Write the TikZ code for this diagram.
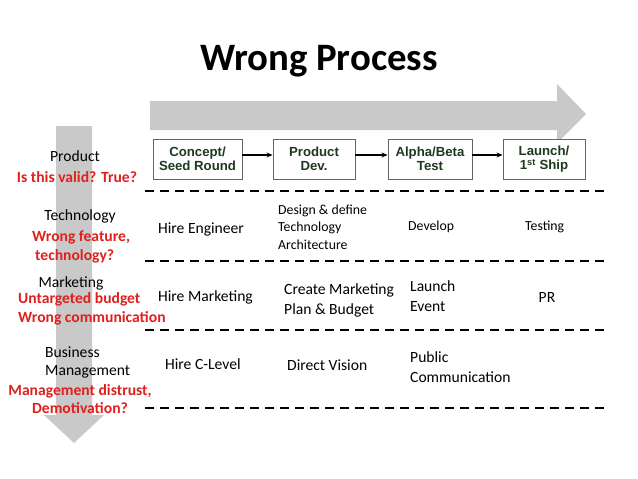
\documentclass[tikz,border=0pt]{standalone}
\usepackage{fontspec}
\setmainfont{Carlito}
\newfontfamily\arialb{Liberation Sans}
\usetikzlibrary{arrows.meta}
\definecolor{arrowgray}{HTML}{C9C9C9}
\definecolor{boxgreen}{HTML}{1E3A1E}
\definecolor{redtxt}{HTML}{E0201C}
\begin{document}
\begin{tikzpicture}[x=1pt,y=-1pt,
  stagebox/.style={draw=black!60,line width=0.9pt,fill=white,minimum width=#1,minimum height=40pt,inner sep=0pt,
    align=center,font=\arialb\bfseries\fontsize{13.2}{14}\selectfont,text=boxgreen},
  stagebox/.default=86pt,
  lefttxt/.style={font=\fontsize{15.6}{18}\selectfont,inner sep=0pt},
  redlbl/.style={font=\bfseries\fontsize{15.6}{18.5}\selectfont,text=redtxt,inner sep=0pt,align=center},
  celltxt/.style={font=\fontsize{15.6}{20}\selectfont,inner sep=0pt,align=left},
  smalltxt/.style={font=\fontsize{13.8}{17.5}\selectfont,inner sep=0pt,align=left},
  sepline/.style={line width=1.8pt,dash pattern=on 9pt off 6pt},
  flow/.style={-{Stealth[length=6pt,width=5pt]},line width=1.3pt}]
\useasboundingbox (0,0) rectangle (638,479);
% big arrows
\fill[arrowgray] (150,101) -- (557,101) -- (557,84) -- (586,114) -- (557,143) -- (557,130) -- (150,130) -- cycle;
\fill[arrowgray] (56,126) -- (92,126) -- (92,415) -- (104,415) -- (74,443) -- (44,415) -- (56,415) -- cycle;
% title
\node[font=\bfseries\fontsize{38.8}{40}\selectfont,inner sep=0pt] (title) at (319,61) {Wrong Process};
% stage boxes
\node[stagebox=89pt] (b1) at (197.5,159) {Concept/\\Seed Round};
\node[stagebox=82pt] (b2) at (314,159) {Product\\Dev.};
\node[stagebox=84pt] (b3) at (430,159) {Alpha/Beta\\Test};
\node[stagebox=82pt] (b4) at (544,159) {Launch/\\1\textsuperscript{st} Ship};
\draw[flow] (b1.east |- 0,155) -- (b2.west |- 0,155);
\draw[flow] (b2.east |- 0,155) -- (b3.west |- 0,155);
\draw[flow] (b3.east |- 0,155) -- (b4.west |- 0,155);
% dashed separators
\coordinate (l1a) at (145,191); \coordinate (l1b) at (606,191);
\coordinate (l2a) at (145,261); \coordinate (l2b) at (606,261);
\coordinate (l3a) at (145,330); \coordinate (l3b) at (606,330);
\coordinate (l4a) at (145,408); \coordinate (l4b) at (606,408);
\draw[sepline] (l1a) -- (l1b);
\draw[sepline] (l2a) -- (l2b);
\draw[sepline] (l3a) -- (l3b);
\draw[sepline] (l4a) -- (l4b);
% left labels
\node[lefttxt] (prod) at (75,156) {Product};
\node[redlbl] (prodq) at (77,177) {Is this valid? True?};
\node[lefttxt] (tech) at (80,216) {Technology};
\node[redlbl,align=left,anchor=west] (techq) at (32,247) {Wrong feature,\\\hspace*{3pt}technology?};
\node[lefttxt] (mkt) at (71,283) {Marketing};
\node[redlbl,align=left,anchor=west] (mktq) at (18,309) {Untargeted budget\\Wrong communication};
\node[lefttxt,align=left,anchor=west] (bus) at (45,362) {Business\\Management};
\node[redlbl] (busq) at (80,399) {Management distrust,\\Demotivation?};
% cells
\node[celltxt,anchor=west] (c11) at (158,229) {Hire Engineer};
\node[smalltxt,anchor=west] (c12) at (278,227) {Design \& define\\Technology\\Architecture};
\node[smalltxt,anchor=west] (c13) at (408,227) {Develop};
\node[smalltxt,anchor=west] (c14) at (525,227) {Testing};
\node[celltxt,anchor=west] (c21) at (158,297) {Hire Marketing};
\node[celltxt,anchor=west] (c22) at (284,300) {Create Marketing\\Plan \& Budget};
\node[celltxt,anchor=west] (c23) at (410,296) {Launch\\Event};
\node[celltxt] (c24) at (547,297) {PR};
\node[celltxt,anchor=west] (c31) at (165,364) {Hire C-Level};
\node[celltxt,anchor=west] (c32) at (287,365) {Direct Vision};
\node[celltxt,anchor=west] (c33) at (410,367) {Public\\Communication};
\end{tikzpicture}
\end{document}
